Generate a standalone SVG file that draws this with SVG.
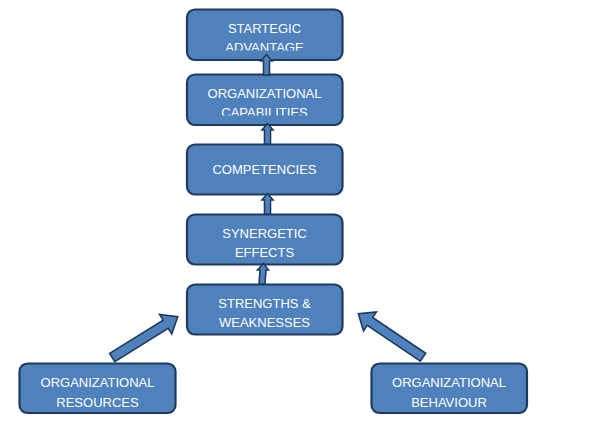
<svg xmlns="http://www.w3.org/2000/svg" width="596" height="448" viewBox="0 0 596 448">
<style>
.box{fill:#4F81BD;stroke:#1F3A5C;stroke-width:2.2}
.arr{fill:#4F81BD;stroke:#1F3A5C;stroke-width:1.6;stroke-linejoin:miter}
text{font-family:"Liberation Sans",Arial,sans-serif;font-size:13px;fill:#FFFFFF;text-anchor:middle}
</style>
<defs>
<clipPath id="clipAdv"><rect x="187" y="9" width="156" height="41.5"/></clipPath>
<clipPath id="clipCap"><rect x="187" y="74" width="156" height="41.5"/></clipPath>
</defs>
<rect width="596" height="448" fill="#FFFFFF"/>
<g id="n-advantage">
<rect class="box" x="187" y="9.5" width="155.5" height="50.5" rx="8"/>
<text x="264.5" y="33">STARTEGIC</text>
<text x="264.5" y="52" clip-path="url(#clipAdv)">ADVANTAGE</text>
</g>
<g id="n-capabilities">
<rect class="box" x="187" y="74.5" width="155.5" height="50.5" rx="8"/>
<text x="264.5" y="98">ORGANIZATIONAL</text>
<text x="264.5" y="117" clip-path="url(#clipCap)">CAPABILITIES</text>
</g>
<g id="n-competencies">
<rect class="box" x="187" y="144.5" width="155.5" height="50" rx="8"/>
<text x="264.5" y="174">COMPETENCIES</text>
</g>
<g id="n-synergetic">
<rect class="box" x="187" y="214.5" width="155.5" height="50" rx="8"/>
<text x="264.5" y="238">SYNERGETIC</text>
<text x="264.5" y="257">EFFECTS</text>
</g>
<g id="n-strengths">
<rect class="box" x="187" y="284.5" width="155.5" height="50" rx="8"/>
<text x="264.5" y="308">STRENGTHS &amp;</text>
<text x="264.5" y="327">WEAKNESSES</text>
</g>
<g id="n-resources">
<rect class="box" x="19.5" y="363.5" width="156" height="49.5" rx="8"/>
<text x="97.5" y="387">ORGANIZATIONAL</text>
<text x="97.5" y="407">RESOURCES</text>
</g>
<g id="n-behaviour">
<rect class="box" x="371.5" y="363.5" width="155.5" height="49.5" rx="8"/>
<text x="449" y="387">ORGANIZATIONAL</text>
<text x="449" y="407">BEHAVIOUR</text>
</g>
<g id="connectors">
<path class="arr" d="M263.5,75 L263.5,61 L261,61 L266.5,54.5 L272,61 L269.5,61 L269.5,75 Z"/>
<path class="arr" d="M264.5,144 L264.5,130 L262,130 L267.5,123.5 L273,130 L270.5,130 L270.5,144 Z"/>
<path class="arr" d="M264.5,214 L264.5,200 L262,200 L267.5,193.5 L273,200 L270.5,200 L270.5,214 Z"/>
<path class="arr" d="M259,284 L260,270 L257.5,270 L263.5,263.5 L268.5,270 L266,270 L265,284 Z"/>
<path class="arr" transform="translate(112.2,357.5) rotate(-31.9)" d="M0,-4.8 L63,-4.8 L63,-11.5 L77.2,0 L63,11.5 L63,4.8 L0,4.8 Z"/>
<path class="arr" transform="translate(423,357.2) rotate(-146)" d="M0,-4.8 L64,-4.8 L64,-11.5 L78,0 L64,11.5 L64,4.8 L0,4.8 Z"/>
</g>
</svg>
